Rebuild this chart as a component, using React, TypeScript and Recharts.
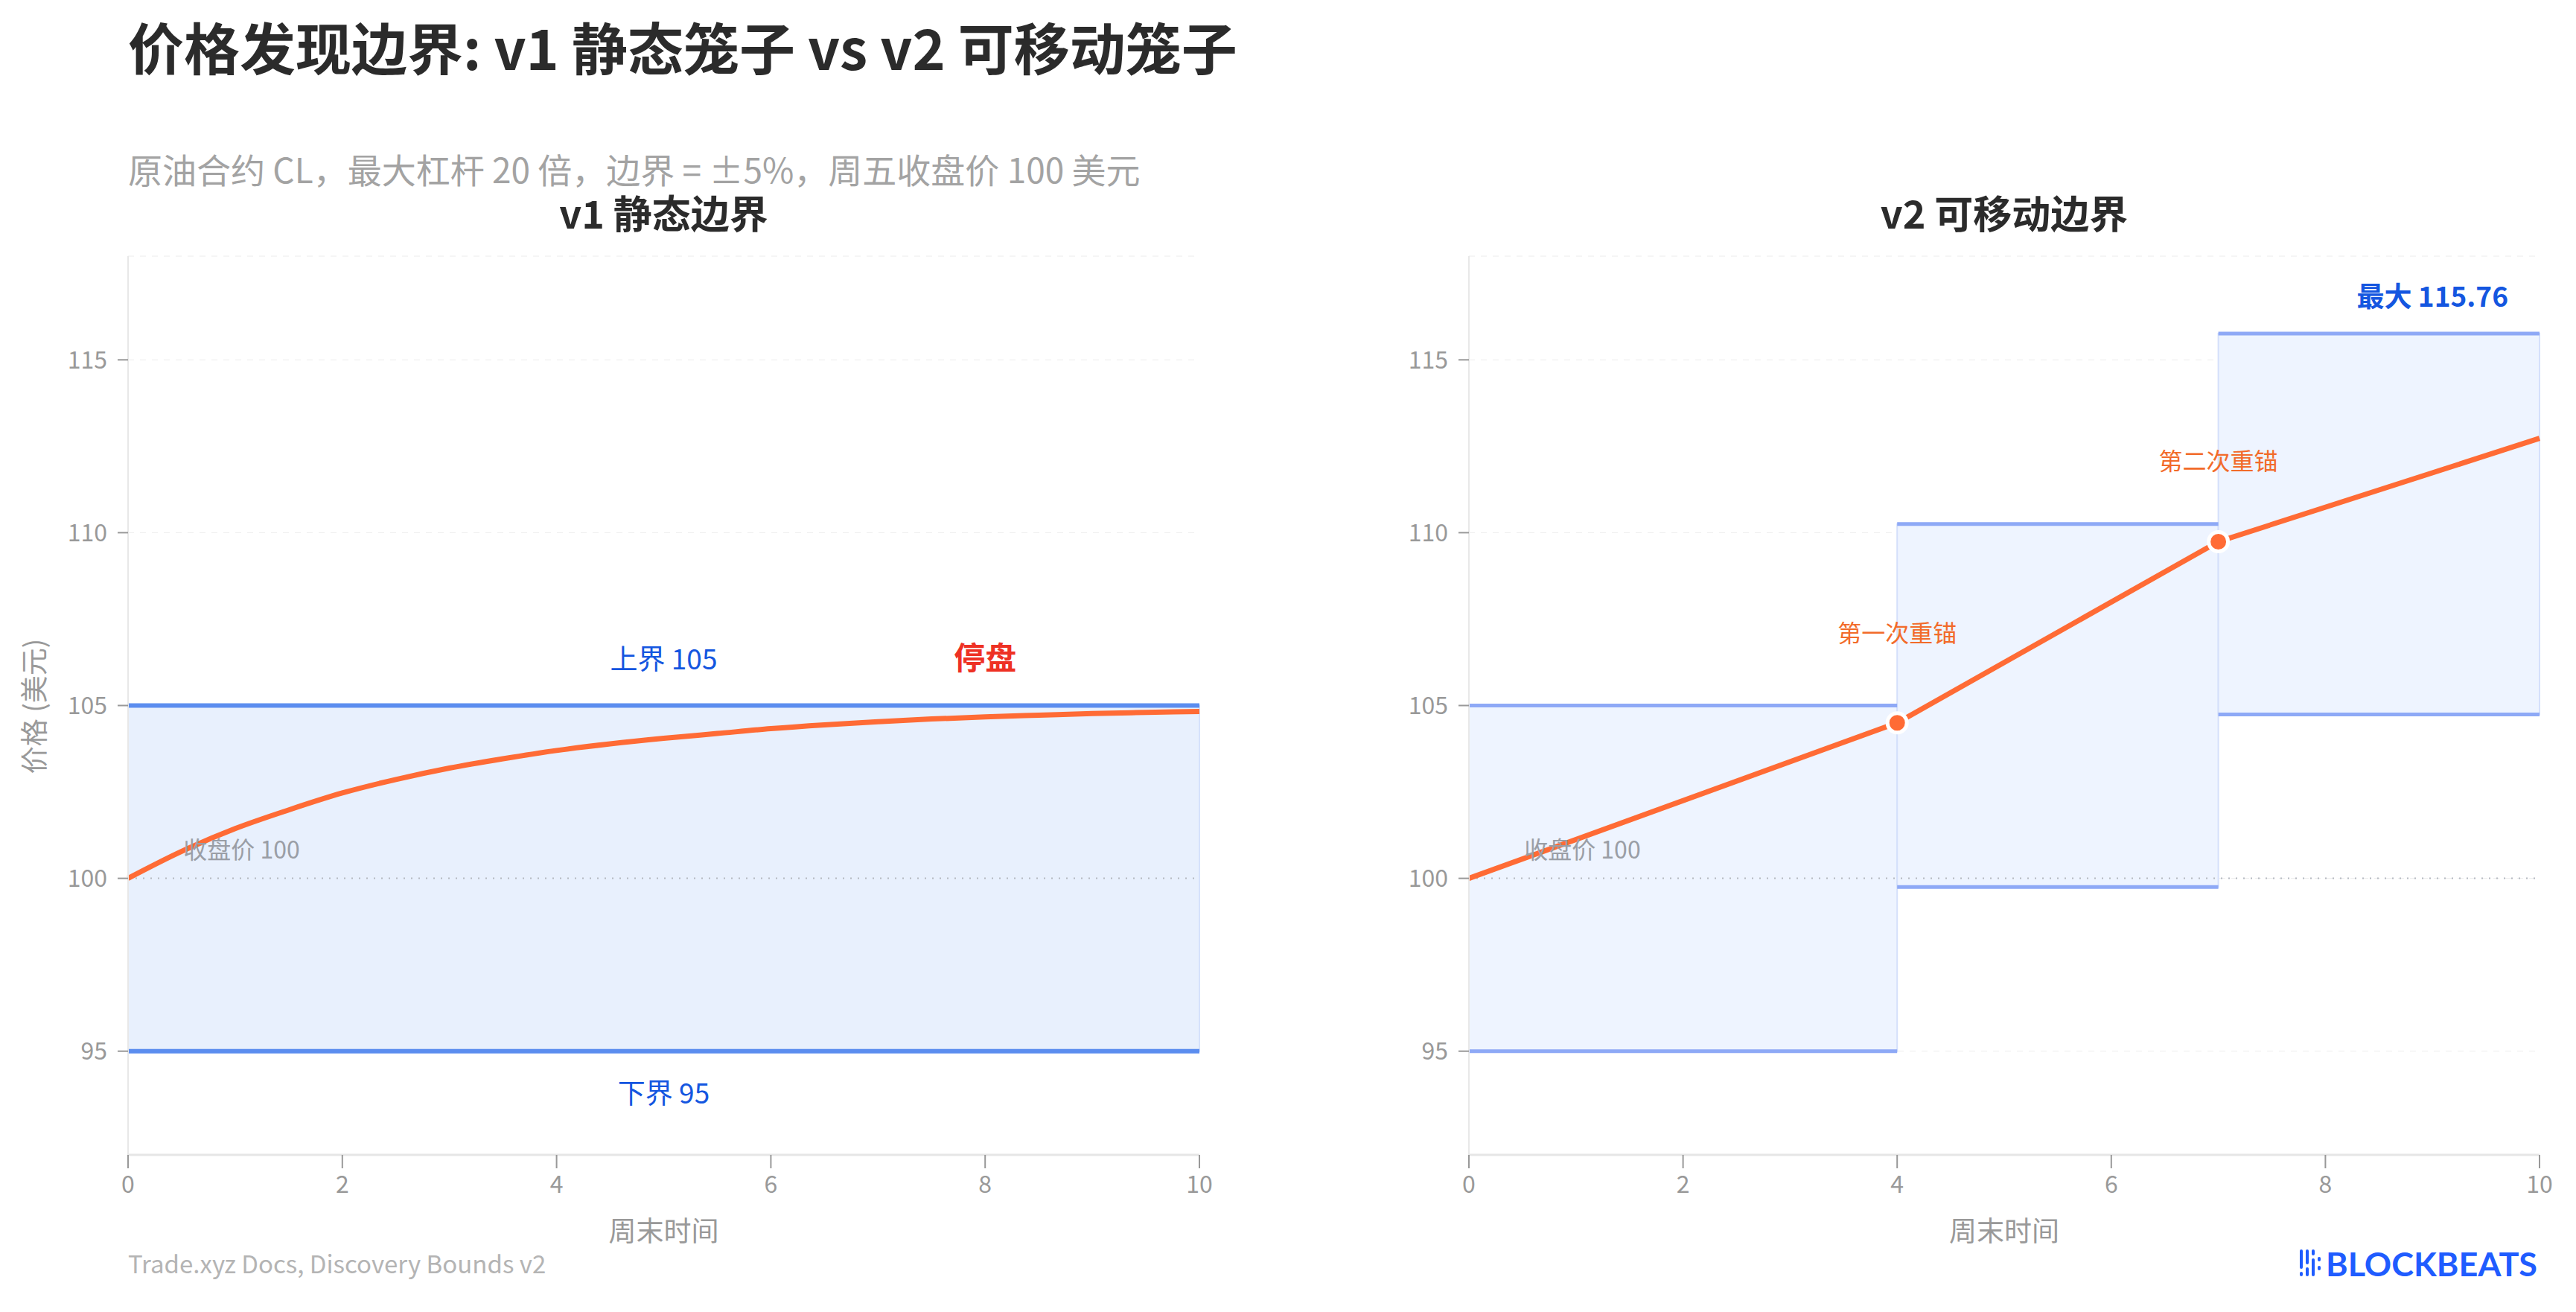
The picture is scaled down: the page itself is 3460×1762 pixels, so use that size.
import React from "react";
import {
  ComposedChart,
  Line,
  XAxis,
  YAxis,
  CartesianGrid,
  ReferenceArea,
  ReferenceLine,
  ReferenceDot,
} from "recharts";

// v1: static cage, price drifts up toward the upper bound and halts
const v1Time = [0, 0.5, 1, 1.5, 2, 2.5, 3, 3.5, 4, 4.5, 5, 5.5, 6, 6.5, 7, 7.5, 8, 8.5, 9, 9.5, 10];
const v1Price = [
  100, 100.78, 101.44, 101.98, 102.47, 102.86, 103.19, 103.46, 103.7, 103.89, 104.05,
  104.19, 104.33, 104.44, 104.53, 104.61, 104.67, 104.72, 104.77, 104.8, 104.83,
];
const v1Lower = 95;
const v1Upper = 105;
const closePrice = 100;

// v2: movable cage, re-anchored twice
const v2Time = [0, 4, 7, 10];
const v2Price = [100, 104.5, 109.74, 112.73];
const v2Anchors = [4, 7];
const boxStart = [0, 4, 7];
const boxEnd = [4, 7, 10];
const boxLower = [95, 99.75, 104.74];
const boxUpper = [105, 110.25, 115.76];

const xTicks = [0, 2, 4, 6, 8, 10];
const yTicks = [95, 100, 105, 110, 115];
const yDomain = [92, 118];

const v1Data = v1Time.map((t, i) => ({ t, price: v1Price[i] }));
const v2Data = v2Time.map((t, i) => ({ t, price: v2Price[i] }));

const FONT = '"Noto Sans CJK SC", "Noto Sans", sans-serif';
const ORANGE = "#ff6b35";
const GRAY = "#999";

const axisProps = {
  xAxis: {
    dataKey: "t",
    type: "number" as const,
    domain: [0, 10],
    ticks: xTicks,
    height: 80,
    tickSize: 18,
    tickMargin: 10,
    axisLine: { stroke: "#e6e6e6", strokeWidth: 3 },
    tickLine: { stroke: GRAY, strokeWidth: 2 },
    tick: { fill: GRAY, fontSize: 32, fontFamily: FONT },
  },
  yAxis: {
    type: "number" as const,
    domain: yDomain,
    ticks: yTicks,
    width: 152,
    tickSize: 14,
    tickMargin: 14,
    axisLine: { stroke: "#e8e8e8", strokeWidth: 2 },
    tickLine: { stroke: GRAY, strokeWidth: 2 },
    tick: { fill: GRAY, fontSize: 32, fontFamily: FONT },
  },
};

function textDot(x: number, y: number, value: string, fill: string, fontSize: number, bold = false) {
  return (
    <ReferenceDot
      key={value + x}
      x={x}
      y={y}
      r={1}
      fill="none"
      stroke="none"
      label={{
        value,
        position: "center",
        fill,
        fontSize,
        fontFamily: FONT,
        fontWeight: bold ? 700 : 400,
      }}
    />
  );
}

function AnchorDot(props: any) {
  const { cx, cy, payload, index } = props;
  if (!v2Anchors.includes(payload.t)) return <g key={`d-${index}`} />;
  return <circle key={`d-${index}`} cx={cx} cy={cy} r={13} fill={ORANGE} stroke="#fff" strokeWidth={5} />;
}

function StaticChart() {
  return (
    <ComposedChart
      width={1700}
      height={1420}
      data={v1Data}
      margin={{ top: 24, right: 89, bottom: 109, left: 20 }}
    >
      <CartesianGrid vertical={false} stroke="#ececec" strokeDasharray="8 8" />
      <ReferenceArea
        x1={0}
        x2={10}
        y1={v1Lower}
        y2={v1Upper}
        fill="#e8f0fd"
        fillOpacity={1}
        stroke="#d6e2fb"
        strokeWidth={2}
      />
      <ReferenceLine y={closePrice} stroke="#b4b8c0" strokeWidth={2} strokeDasharray="2 8" />
      <ReferenceLine y={v1Upper} stroke="#5b8def" strokeWidth={6} />
      <ReferenceLine y={v1Lower} stroke="#5b8def" strokeWidth={6} />
      <XAxis {...axisProps.xAxis} />
      <YAxis {...axisProps.yAxis} />
      <Line
        type="monotone"
        dataKey="price"
        stroke={ORANGE}
        strokeWidth={7}
        dot={false}
        activeDot={false}
        isAnimationActive={false}
      />
      {textDot(5, 106.32, "上界 105", "#1456e0", 37)}
      {textDot(8, 106.37, "停盘", "#ee3124", 42, true)}
      {textDot(5, 93.78, "下界 95", "#1456e0", 37)}
      {textDot(1.06, 100.81, "收盘价 100", "#9a9ea6", 32)}
    </ComposedChart>
  );
}

function MovableChart() {
  return (
    <ComposedChart
      width={1660}
      height={1420}
      data={v2Data}
      margin={{ top: 24, right: 49, bottom: 109, left: 21 }}
    >
      <CartesianGrid vertical={false} stroke="#ececec" strokeDasharray="8 8" />
      {boxStart.map((s, i) => (
        <ReferenceArea
          key={`box-${i}`}
          x1={s}
          x2={boxEnd[i]}
          y1={boxLower[i]}
          y2={boxUpper[i]}
          fill="#eef4ff"
          fillOpacity={1}
          stroke="#d5e0fb"
          strokeWidth={2}
        />
      ))}
      <ReferenceLine y={closePrice} stroke="#b4b8c0" strokeWidth={2} strokeDasharray="2 8" />
      {boxStart.map((s, i) => (
        <ReferenceLine
          key={`up-${i}`}
          segment={[
            { x: s, y: boxUpper[i] },
            { x: boxEnd[i], y: boxUpper[i] },
          ]}
          stroke="#8ea9f6"
          strokeWidth={5}
        />
      ))}
      {boxStart.map((s, i) => (
        <ReferenceLine
          key={`lo-${i}`}
          segment={[
            { x: s, y: boxLower[i] },
            { x: boxEnd[i], y: boxLower[i] },
          ]}
          stroke="#8ea9f6"
          strokeWidth={5}
        />
      ))}
      <XAxis {...axisProps.xAxis} />
      <YAxis {...axisProps.yAxis} />
      <Line
        type="linear"
        dataKey="price"
        stroke={ORANGE}
        strokeWidth={7}
        dot={AnchorDot}
        activeDot={false}
        isAnimationActive={false}
      />
      {textDot(1.06, 100.81, "收盘价 100", "#9a9ea6", 32)}
      {textDot(4, 107.08, "第一次重锚", "#f26b2a", 32)}
      {textDot(7, 112.07, "第二次重锚", "#f26b2a", 32)}
      {textDot(9, 116.82, "最大 115.76", "#1456e0", 37, true)}
    </ComposedChart>
  );
}

const abs = (left: number, top: number): React.CSSProperties => ({
  position: "absolute",
  left,
  top,
  fontFamily: FONT,
  lineHeight: 1,
  whiteSpace: "nowrap",
});

export default function App() {
  return (
    <div
      style={{
        position: "absolute",
        left: 0,
        top: 0,
        width: 3460,
        height: 1762,
        background: "#fff",
        overflow: "hidden",
        fontFamily: FONT,
      }}
    >
      <div style={{ ...abs(172, 24), fontSize: 75, fontWeight: 700, color: "#2b2b2b" }}>
        价格发现边界: v1 静态笼子 vs v2 可移动笼子
      </div>
      <div style={{ ...abs(172, 203), fontSize: 46, color: "#a3a3a3" }}>
        原油合约 CL，最大杠杆 20 倍，边界 = ±5%，周五收盘价 100 美元
      </div>
      <div style={{ ...abs(0, 259), width: 1783, textAlign: "center", fontSize: 52, fontWeight: 700, color: "#2b2b2b" }}>
        v1 静态边界
      </div>
      <div style={{ ...abs(1973, 259), width: 1438, textAlign: "center", fontSize: 52, fontWeight: 700, color: "#2b2b2b" }}>
        v2 可移动边界
      </div>

      <div style={{ position: "absolute", left: 0, top: 320 }}>
        <StaticChart />
      </div>
      <div style={{ position: "absolute", left: 1800, top: 320 }}>
        <MovableChart />
      </div>

      <div style={{ ...abs(172, 1633), width: 1439, textAlign: "center", fontSize: 37, color: GRAY }}>
        周末时间
      </div>
      <div style={{ ...abs(1973, 1633), width: 1438, textAlign: "center", fontSize: 37, color: GRAY }}>
        周末时间
      </div>
      <div
        style={{
          ...abs(44 - 150, 949 - 19),
          width: 300,
          textAlign: "center",
          fontSize: 37,
          color: GRAY,
          transform: "rotate(-90deg)",
        }}
      >
        价格 (美元)
      </div>

      <div style={{ ...abs(172, 1680), fontSize: 33, color: "#b4b4b4" }}>
        Trade.xyz Docs, Discovery Bounds v2
      </div>

      <svg style={{ position: "absolute", left: 3086, top: 1670 }} width={360} height={56}>
        <rect x={3} y={8} width={4} height={26} rx={2} fill="#1f5cff" />
        <rect x={3} y={38} width={4} height={6} rx={2} fill="#1f5cff" />
        <rect x={11} y={8} width={4} height={20} rx={2} fill="#1f5cff" />
        <rect x={11} y={32} width={4} height={12} rx={2} fill="#1f5cff" />
        <rect x={19} y={8} width={4} height={8} rx={2} fill="#1f5cff" />
        <rect x={19} y={20} width={4} height={24} rx={2} fill="#1f5cff" />
        <rect x={27} y={18} width={4} height={6} rx={2} fill="#1f5cff" />
        <rect x={27} y={30} width={4} height={6} rx={2} fill="#1f5cff" />
        <text
          x={38}
          y={44}
          fontFamily="Lato, 'DejaVu Sans', sans-serif"
          fontWeight={700}
          fontSize={44}
          fill="#1f5cff"
          textLength={284}
          lengthAdjust="spacingAndGlyphs"
        >
          BLOCKBEATS
        </text>
      </svg>
    </div>
  );
}
